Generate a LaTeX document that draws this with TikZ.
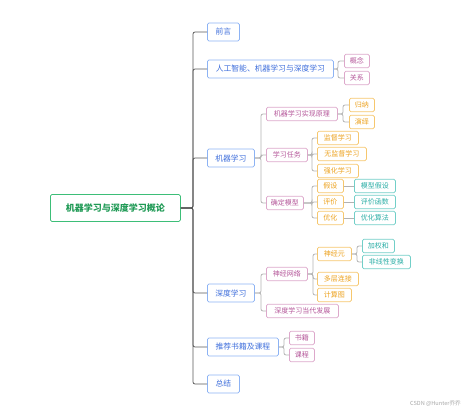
\documentclass[tikz,border=0pt]{standalone}
\usepackage{fontspec}
\setmainfont{Noto Sans CJK SC}
\usepackage{tikz}
\definecolor{rootgreen}{HTML}{3DBE78}
\definecolor{roottext}{HTML}{1F9A55}
\definecolor{blueline}{HTML}{8DB3F4}
\definecolor{bluetext}{HTML}{3F6FDC}
\definecolor{pinkline}{HTML}{DDA8CB}
\definecolor{pinktext}{HTML}{B5579A}
\definecolor{orangeline}{HTML}{F6C76E}
\definecolor{orangetext}{HTML}{EDA21E}
\definecolor{tealline}{HTML}{72CFC8}
\definecolor{tealtext}{HTML}{2BAEA6}
\tikzstyle{box} = [rectangle, rounded corners=1.5pt, line width=0.8pt, fill=white, inner sep=0pt, text centered, anchor=west]
\tikzstyle{rootbox} = [box, draw=rootgreen, text=roottext, minimum height=27pt, font=\fontsize{9}{9}\selectfont\bfseries]
\tikzstyle{lvone} = [box, draw=blueline, text=bluetext, minimum height=18pt, font=\fontsize{7.8}{7.8}\selectfont]
\tikzstyle{lvtwo} = [box, draw=pinkline, text=pinktext, minimum height=13.5pt, font=\fontsize{7}{7}\selectfont]
\tikzstyle{lvthree} = [box, draw=orangeline, text=orangetext, minimum height=13.5pt, font=\fontsize{7}{7}\selectfont]
\tikzstyle{lvfour} = [box, draw=tealline, text=tealtext, minimum height=13.5pt, font=\fontsize{7}{7}\selectfont]
\tikzstyle{trunk} = [line width=0.8pt, draw=black!65, rounded corners=2pt]
\tikzstyle{branch} = [line width=0.8pt, draw=black!30, rounded corners=2pt]

\begin{document}
\begin{tikzpicture}[x=1pt, y=-1pt]
\useasboundingbox (0,0) rectangle (474,412);
% root and first level
\node (gailun) [rootbox, minimum width=130pt] at (50,208) {机器学习与深度学习概论};
\node (qianyan) [lvone, minimum width=32pt] at (207,32) {前言};
\node (rengong) [lvone, minimum width=126pt] at (207,69) {人工智能、机器学习与深度学习};
\node (jiqi) [lvone, minimum width=47pt] at (207,158) {机器学习};
\node (shendu) [lvone, minimum width=47pt] at (207,293) {深度学习};
\node (tuijian) [lvone, minimum width=71pt] at (207,347) {推荐书籍及课程};
\node (zongjie) [lvone, minimum width=32pt] at (207,384) {总结};
\foreach \c in {qianyan,rengong,jiqi,shendu,tuijian,zongjie}
  \draw [trunk] (\c.west) -- ++(-14pt,0) |- (gailun.east);

% 人工智能
\node (gainian) [lvtwo, minimum width=25pt] at (344,61) {概念};
\node (guanxi) [lvtwo, minimum width=25pt] at (344,78) {关系};
\foreach \c in {gainian,guanxi}
  \draw [branch] (\c.west) -- ++(-6pt,0) |- (rengong.east);

% 机器学习
\node (yuanli) [lvtwo, minimum width=71pt] at (266,114) {机器学习实现原理};
\node (renwu) [lvtwo, minimum width=41pt] at (266,155) {学习任务};
\node (moxing) [lvtwo, minimum width=37pt] at (266,203) {确定模型};
\foreach \c in {yuanli,renwu,moxing}
  \draw [branch] (\c.west) -- ++(-5pt,0) |- (jiqi.east);

\node (guina) [lvthree, minimum width=25pt] at (349,105) {归纳};
\node (yanyi) [lvthree, minimum width=25pt] at (349,122) {演绎};
\foreach \c in {guina,yanyi}
  \draw [branch] (\c.west) -- ++(-6pt,0) |- (yuanli.east);

\node (jiandu) [lvthree, minimum width=41pt] at (317,138) {监督学习};
\node (wujiandu) [lvthree, minimum width=49pt] at (317,154) {无监督学习};
\node (qianghua) [lvthree, minimum width=41pt] at (317,171) {强化学习};
\foreach \c in {jiandu,wujiandu,qianghua}
  \draw [branch] (\c.west) -- ++(-5pt,0) |- (renwu.east);

\node (jiashe) [lvthree, minimum width=26pt] at (317,186) {假设};
\node (pingjia) [lvthree, minimum width=26pt] at (317,202) {评价};
\node (youhua) [lvthree, minimum width=26pt] at (317,218) {优化};
\foreach \c in {jiashe,pingjia,youhua}
  \draw [branch] (\c.west) -- ++(-5pt,0) |- (moxing.east);

\node (mxjiashe) [lvfour, minimum width=41pt] at (354,186) {模型假设};
\node (pjhanshu) [lvfour, minimum width=41pt] at (354,202) {评价函数};
\node (yhsuanfa) [lvfour, minimum width=41pt] at (354,218) {优化算法};
\draw [branch] (jiashe) -- (mxjiashe);
\draw [branch] (pingjia) -- (pjhanshu);
\draw [branch] (youhua) -- (yhsuanfa);

% 深度学习
\node (shenjing) [lvtwo, minimum width=41pt] at (266,274) {神经网络};
\node (fazhan) [lvtwo, minimum width=72pt] at (266,311) {深度学习当代发展};
\foreach \c in {shenjing,fazhan}
  \draw [branch] (\c.west) -- ++(-5pt,0) |- (shendu.east);

\node (shenjingyuan) [lvthree, minimum width=34pt] at (317,254) {神经元};
\node (duoceng) [lvthree, minimum width=41pt] at (317,279) {多层连接};
\node (jisuantu) [lvthree, minimum width=34pt] at (317,295) {计算图};
\foreach \c in {shenjingyuan,duoceng,jisuantu}
  \draw [branch] (\c.west) -- ++(-4pt,0) |- (shenjing.east);

\node (jiaquan) [lvfour, minimum width=32pt] at (362,246) {加权和};
\node (feixianxing) [lvfour, minimum width=48pt] at (362,262) {非线性变换};
\foreach \c in {jiaquan,feixianxing}
  \draw [branch] (\c.west) -- ++(-5pt,0) |- (shenjingyuan.east);

% 推荐书籍及课程
\node (shuji) [lvtwo, minimum width=25pt] at (289,338) {书籍};
\node (kecheng) [lvtwo, minimum width=25pt] at (289,355) {课程};
\foreach \c in {shuji,kecheng}
  \draw [branch] (\c.west) -- ++(-5pt,0) |- (tuijian.east);

\node (shuiyin) [anchor=east, text=black!35, font=\fontsize{5.6}{5.6}\selectfont, inner sep=0pt] at (461,404) {CSDN @Hunter乔乔};
\end{tikzpicture}
\end{document}
